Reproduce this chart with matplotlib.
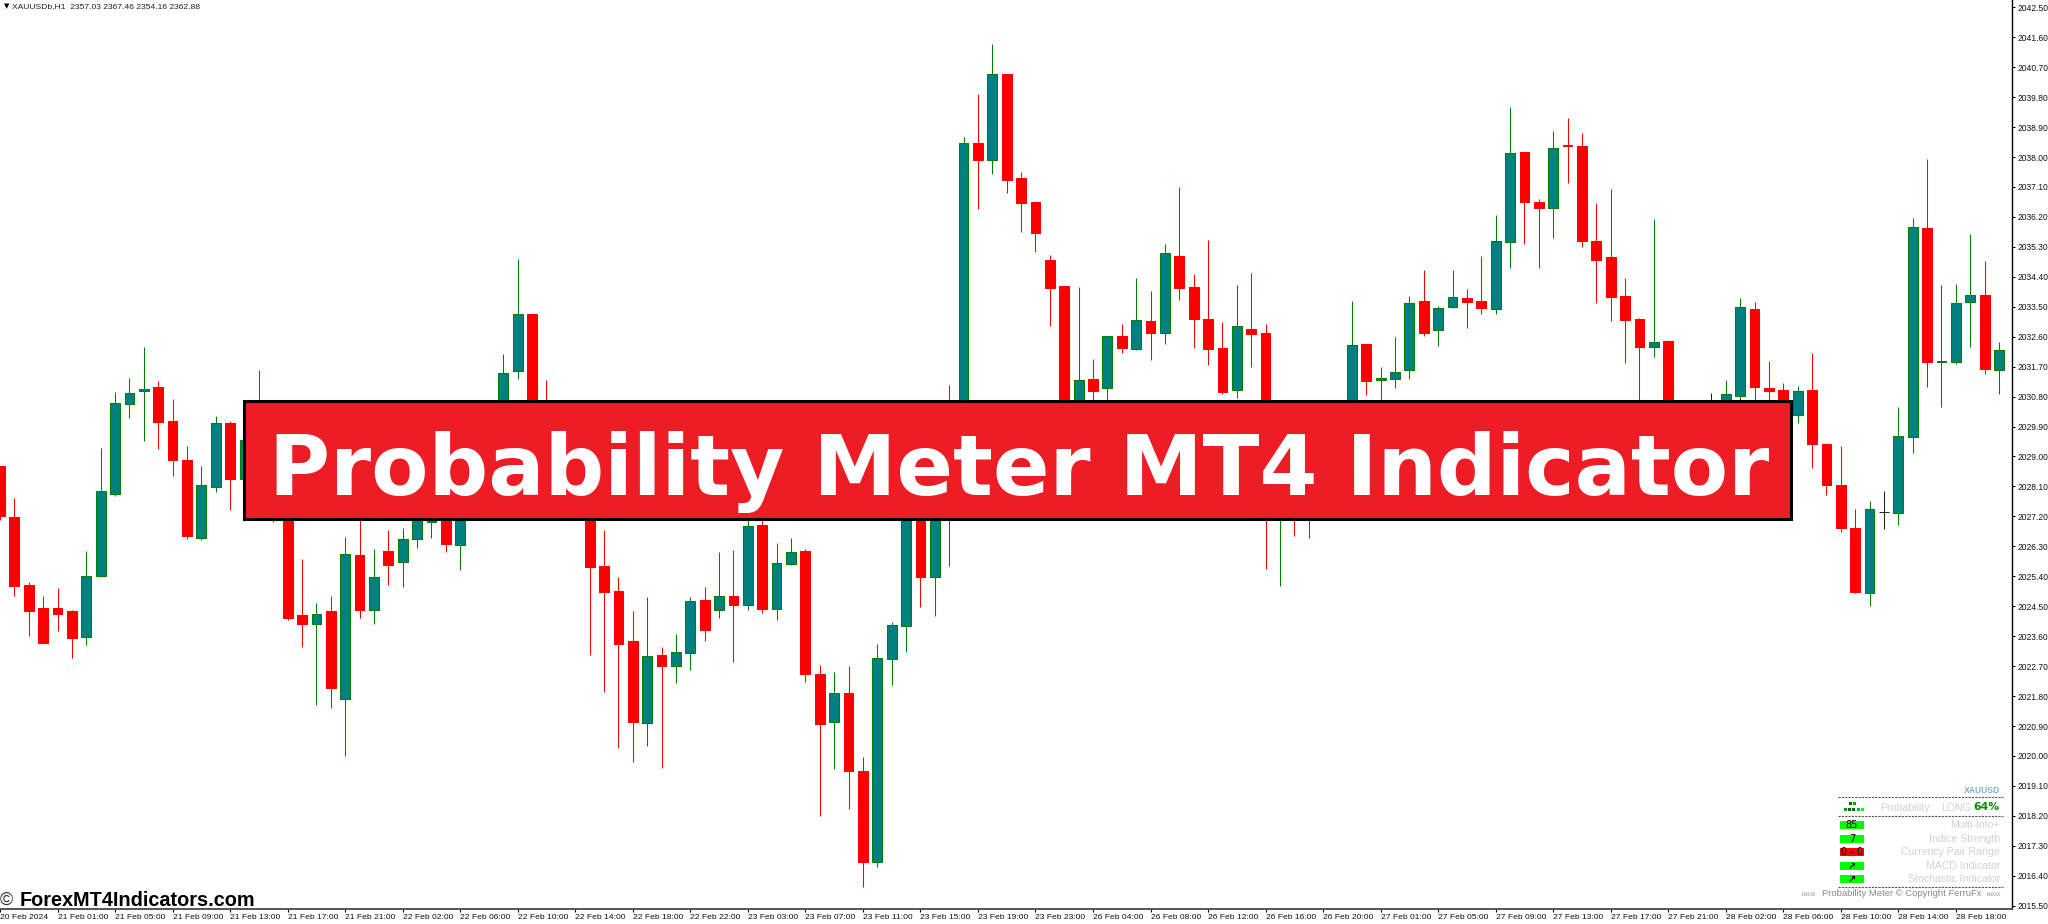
#!/usr/bin/env python3
"""XAUUSD H1 candles with the Probability Meter panel and title banner."""

import matplotlib
matplotlib.use("Agg")
import matplotlib.pyplot as plt
from matplotlib.patches import Rectangle

TICK_FONT = "Liberation Sans"
BANNER_FONT = "DejaVu Sans"

opens = [
    2028.71, 2027.18, 2025.13, 2024.44, 2024.44, 2024.35, 2023.58, 2025.41, 2027.88, 2030.57,
    2030.97, 2031.09, 2030.06, 2028.89, 2026.56, 2028.08, 2030.01, 2028.32, 2029.49, 2028.59,
    2027.69, 2024.25, 2023.98, 2024.35, 2021.72, 2026.04, 2024.39, 2026.17, 2025.83, 2026.53,
    2027.04, 2027.99, 2026.35, 2028.29, 2029.49, 2030.34, 2031.57, 2033.28, 2029.79, 2028.59,
    2027.69, 2027.39, 2025.71, 2024.95, 2023.46, 2020.99, 2023.03, 2022.71, 2023.10, 2024.68,
    2024.39, 2024.81, 2024.55, 2026.95, 2024.42, 2025.78, 2026.17, 2022.46, 2021.01, 2021.89,
    2019.54, 2016.82, 2022.91, 2023.90, 2029.19, 2025.38, 2029.19, 2030.09, 2038.41, 2037.91,
    2040.50, 2037.36, 2036.64, 2034.90, 2034.12, 2029.49, 2031.34, 2031.05, 2032.63, 2032.24,
    2033.06, 2032.72, 2035.03, 2034.09, 2033.12, 2032.25, 2031.00, 2032.82, 2032.71, 2027.69,
    2030.09, 2028.59, 2029.79, 2030.40, 2029.94, 2032.37, 2031.31, 2031.32, 2031.60, 2033.68,
    2032.80, 2033.48, 2033.76, 2033.68, 2033.42, 2035.45, 2038.14, 2036.65, 2036.48, 2038.36,
    2038.33, 2035.47, 2035.00, 2033.82, 2033.12, 2032.29, 2032.46, 2029.19, 2028.59, 2029.79,
    2029.79, 2030.83, 2033.44, 2031.06, 2030.99, 2030.25, 2031.01, 2029.38, 2028.14, 2026.84,
    2024.90, 2027.32, 2027.29, 2029.59, 2035.87, 2031.83, 2031.85, 2033.64, 2033.84, 2031.60,
]
highs = [
    2028.71, 2027.75, 2025.23, 2024.81, 2025.04, 2024.38, 2026.17, 2029.25, 2030.93, 2031.36,
    2032.28, 2031.28, 2030.72, 2029.31, 2028.71, 2030.21, 2030.06, 2029.94, 2031.60, 2029.19,
    2028.59, 2025.92, 2024.60, 2024.80, 2026.57, 2027.39, 2026.22, 2026.79, 2026.85, 2027.54,
    2027.54, 2028.29, 2028.59, 2029.94, 2030.55, 2032.07, 2034.93, 2033.28, 2031.30, 2029.49,
    2028.29, 2027.99, 2026.79, 2025.38, 2024.35, 2024.77, 2023.28, 2023.68, 2024.77, 2025.08,
    2026.12, 2026.19, 2027.24, 2027.24, 2026.39, 2026.55, 2026.22, 2022.73, 2022.51, 2022.71,
    2019.96, 2023.35, 2024.03, 2029.49, 2029.79, 2030.09, 2031.15, 2038.61, 2039.89, 2041.40,
    2040.50, 2037.55, 2036.64, 2035.05, 2034.12, 2034.09, 2031.93, 2032.63, 2032.98, 2034.36,
    2033.96, 2035.39, 2037.10, 2034.47, 2035.51, 2033.04, 2034.15, 2034.50, 2032.98, 2030.55,
    2030.40, 2030.25, 2030.55, 2030.55, 2033.66, 2032.37, 2031.68, 2032.58, 2033.82, 2034.60,
    2033.52, 2034.60, 2034.04, 2035.03, 2036.26, 2039.50, 2038.16, 2036.74, 2038.78, 2039.18,
    2038.72, 2036.61, 2037.04, 2034.36, 2033.17, 2036.13, 2032.50, 2029.49, 2030.09, 2030.91,
    2031.31, 2033.77, 2033.65, 2031.88, 2031.20, 2031.11, 2032.12, 2029.41, 2029.31, 2027.41,
    2027.65, 2027.96, 2030.49, 2036.18, 2037.93, 2034.15, 2034.17, 2035.69, 2034.87, 2032.44,
]
lows = [
    2027.09, 2024.81, 2023.60, 2023.39, 2023.76, 2022.95, 2023.33, 2025.38, 2027.82, 2030.15,
    2029.47, 2029.23, 2028.42, 2026.51, 2026.49, 2027.93, 2027.39, 2027.99, 2027.69, 2027.04,
    2024.10, 2023.28, 2021.53, 2021.45, 2020.00, 2024.15, 2023.98, 2025.13, 2025.08, 2026.26,
    2026.56, 2026.14, 2025.58, 2027.99, 2029.19, 2030.09, 2031.34, 2029.49, 2028.29, 2027.39,
    2027.24, 2023.03, 2021.93, 2020.24, 2019.82, 2020.30, 2019.65, 2022.20, 2022.58, 2023.46,
    2024.15, 2022.82, 2024.39, 2024.30, 2024.10, 2025.74, 2022.23, 2018.20, 2019.60, 2018.40,
    2016.07, 2016.67, 2022.12, 2023.12, 2024.49, 2024.20, 2025.72, 2029.79, 2036.45, 2037.48,
    2036.91, 2035.76, 2035.15, 2032.93, 2029.19, 2029.19, 2030.40, 2030.09, 2032.10, 2032.20,
    2031.91, 2032.39, 2033.71, 2032.26, 2031.75, 2030.88, 2030.77, 2031.69, 2025.61, 2025.11,
    2026.61, 2026.56, 2029.49, 2029.64, 2029.64, 2030.85, 2030.09, 2031.07, 2031.32, 2032.61,
    2032.32, 2033.45, 2032.85, 2033.29, 2033.29, 2034.67, 2035.39, 2034.67, 2035.56, 2037.21,
    2035.29, 2033.62, 2033.08, 2031.80, 2029.79, 2032.00, 2028.89, 2028.29, 2028.29, 2029.49,
    2029.49, 2030.40, 2030.09, 2030.40, 2030.09, 2030.00, 2028.64, 2027.83, 2026.72, 2024.90,
    2024.52, 2026.83, 2026.94, 2029.11, 2031.10, 2030.49, 2031.77, 2032.29, 2031.48, 2030.89,
]
closes = [
    2027.21, 2025.11, 2024.36, 2023.40, 2024.27, 2023.55, 2025.41, 2027.95, 2030.60, 2030.90,
    2031.03, 2030.03, 2028.89, 2026.61, 2028.13, 2030.00, 2028.32, 2029.49, 2028.59, 2027.69,
    2024.14, 2023.98, 2024.27, 2022.03, 2026.06, 2024.39, 2025.38, 2025.74, 2026.51, 2027.24,
    2027.10, 2026.37, 2028.29, 2029.49, 2030.40, 2031.50, 2033.28, 2029.79, 2028.59, 2027.69,
    2027.39, 2025.68, 2024.93, 2023.36, 2021.01, 2023.00, 2022.71, 2023.11, 2024.65, 2023.80,
    2024.81, 2024.55, 2026.92, 2024.42, 2025.79, 2026.14, 2022.45, 2020.96, 2021.89, 2019.54,
    2016.82, 2022.94, 2023.94, 2028.89, 2025.38, 2029.19, 2030.09, 2038.41, 2037.91, 2040.50,
    2037.32, 2036.62, 2035.73, 2034.07, 2029.49, 2031.31, 2030.97, 2032.63, 2032.26, 2033.09,
    2032.72, 2035.11, 2034.07, 2033.13, 2032.23, 2030.94, 2032.93, 2032.69, 2027.69, 2030.09,
    2028.59, 2029.79, 2030.40, 2029.94, 2032.36, 2031.27, 2031.36, 2031.55, 2033.62, 2032.70,
    2033.46, 2033.78, 2033.64, 2033.45, 2035.47, 2038.11, 2036.65, 2036.48, 2038.28, 2038.32,
    2035.48, 2034.90, 2033.80, 2033.10, 2032.29, 2032.43, 2029.19, 2028.59, 2029.79, 2029.79,
    2030.87, 2033.50, 2031.08, 2030.97, 2030.25, 2030.98, 2029.37, 2028.13, 2026.85, 2024.93,
    2027.41, 2027.32, 2029.62, 2035.90, 2031.83, 2031.87, 2033.62, 2033.84, 2031.62, 2032.21,
]

price_ticks = [
    2015.50, 2016.40, 2017.30, 2018.20, 2019.10, 2020.00, 2020.90, 2021.80, 2022.70, 2023.60,
    2024.50, 2025.40, 2026.30, 2027.20, 2028.10, 2029.00, 2029.90, 2030.80, 2031.70, 2032.60,
    2033.50, 2034.40, 2035.30, 2036.20, 2037.10, 2038.00, 2038.90, 2039.80, 2040.70, 2041.60,
    2042.50,
]
time_labels = [
    "20 Feb 2024", "21 Feb 01:00", "21 Feb 05:00", "21 Feb 09:00", "21 Feb 13:00", "21 Feb 17:00",
    "21 Feb 21:00", "22 Feb 02:00", "22 Feb 06:00", "22 Feb 10:00", "22 Feb 14:00", "22 Feb 18:00",
    "22 Feb 22:00", "23 Feb 03:00", "23 Feb 07:00", "23 Feb 11:00", "23 Feb 15:00", "23 Feb 19:00",
    "23 Feb 23:00", "26 Feb 04:00", "26 Feb 08:00", "26 Feb 12:00", "26 Feb 16:00", "26 Feb 20:00",
    "27 Feb 01:00", "27 Feb 05:00", "27 Feb 09:00", "27 Feb 13:00", "27 Feb 17:00", "27 Feb 21:00",
    "28 Feb 02:00", "28 Feb 06:00", "28 Feb 10:00", "28 Feb 14:00", "28 Feb 18:00",
]
TIME_STEP = 4

panel_labels = ["Multi-Info+", "Indice Strength", "Currency Pair Range", "MACD Indicator", "Stochastic Indicator"]
panel_values = ["85", "7", "0 - 0", "\u2197", "\u2197"]
panel_colors = ["#00FF00", "#00FF00", "#FF0000", "#00FF00", "#00FF00"]

fig = plt.figure(figsize=(20.48, 9.24), dpi=100, facecolor="white")
ax = fig.add_axes([0, 15 / 924, 2012.4 / 2048, 909 / 924])

for i, (o, h, l, c) in enumerate(zip(opens, highs, lows, closes)):
    if c > o:
        wick, fill = "#008000", "#008080"
    elif c < o:
        wick, fill = "#FF0000", "#FF0000"
    else:
        wick, fill = "#222222", "#222222"
    ax.vlines(i, l, h, color=wick, linewidth=0.75, zorder=2)
    ax.bar(i, abs(c - o), bottom=min(o, c), width=0.68, color=fill, edgecolor=wick, linewidth=0.75, zorder=3)

ax.set_xlim(0.059, 139.93)
ax.set_ylim(2015.40, 2042.72)
for side in ["top", "left"]:
    ax.spines[side].set_visible(False)
ax.spines["right"].set_linewidth(1.0)
ax.spines["bottom"].set_linewidth(1.4)
ax.spines["bottom"].set_color("#555555")
ax.yaxis.tick_right()
ax.set_yticks(price_ticks)
ax.set_yticklabels([f"{p:.2f}" for p in price_ticks], fontname=TICK_FONT, fontsize=6.15, color="#111111")
ax.set_xticks(range(0, len(time_labels) * TIME_STEP, TIME_STEP))
ax.set_xticklabels(time_labels, fontname=TICK_FONT, fontsize=6.1, color="#111111", ha="left")
ax.tick_params(axis="y", length=2.5, width=0.8, pad=1.5)
ax.tick_params(axis="x", length=2.5, width=0.8, pad=1.2)

# overlay in pixel coordinates for banner, panel and captions
ov = fig.add_axes([0, 0, 1, 1], facecolor="none")
ov.set_xlim(0, 2048)
ov.set_ylim(924, 0)
ov.axis("off")

ov.add_patch(Rectangle((244, 401), 1547, 118, facecolor="#ED1C25", edgecolor="black", linewidth=2.2, zorder=5))
ov.text(1019, 495, "Probability Meter MT4 Indicator", fontname=BANNER_FONT, fontweight="bold", fontsize=60,
        color="white", ha="center", va="baseline", zorder=6)

ov.text(4, 6.5, "\u25BC", fontname="DejaVu Sans", fontsize=5, color="black", va="center")
ov.text(12.5, 6.5, "XAUUSDb,H1  2357.03 2367.46 2354.16 2362.88", fontname=TICK_FONT, fontsize=6.1,
        color="#222222", va="center")

ov.text(0, 900, "\u00A9", fontname=TICK_FONT, fontsize=13, color="#333333", va="center")
ov.text(20, 900, "ForexMT4Indicators.com", fontname=TICK_FONT, fontweight="bold", fontsize=14.3,
        color="black", va="center")

# indicator panel
ov.text(2000, 790.5, "XAUUSD", fontname=TICK_FONT, fontweight="bold", fontsize=6.2, color="#7FB2C4", ha="right", va="center")
for y in [797.3, 816, 887.3]:
    ov.plot([1838, 2003], [y, y], color="#555555", linewidth=0.8, linestyle=(0, (2, 1)))
ov.text(1880, 807.7, "Probability:", fontname=TICK_FONT, fontsize=7.6, color="#D2D2D2", va="center")
ov.text(1941, 807.7, "LONG", fontname=TICK_FONT, fontsize=7.6, color="#D2D2D2", va="center")
ov.text(2000, 807.5, "64%", fontname="DejaVu Sans", fontweight="bold", fontsize=7.8, color="#0A8A0A", ha="right", va="center")
for x, y, col in [(1849, 803, "#006400"), (1853, 803, "#00A000"), (1843.5, 809.5, "#00A000"), (1848, 809.5, "#006400"),
                  (1852, 809.5, "#006400"), (1856.5, 809.5, "#00C000"), (1860.5, 809.5, "#00FF00")]:
    ov.add_patch(Rectangle((x, y - 1.5), 3, 3.2, facecolor=col, edgecolor="none"))
for k, (name, val, col) in enumerate(zip(panel_labels, panel_values, panel_colors)):
    y = 825.3 + k * 13.5
    ov.add_patch(Rectangle((1840, y - 4), 24.3, 8, facecolor=col, edgecolor="none"))
    ov.text(1852, y, val, fontname="DejaVu Sans", fontsize=7.0, color="black", ha="center", va="center",
            fontweight="bold" if k > 2 else "normal")
    ov.text(2000, y, name, fontname=TICK_FONT, fontsize=7.6, color="#D2D2D2", ha="right", va="center")
ov.text(1801, 894, "\u00BB\u00BB\u00BB", fontname=TICK_FONT, fontsize=6.7, color="#999999", va="center")
ov.text(1822, 893.5, "Probability Meter \u00A9 Copyright FerruFx", fontname=TICK_FONT, fontsize=6.8, color="#8A8A8A", va="center")
ov.text(2001, 894, "\u00AB\u00AB\u00AB", fontname=TICK_FONT, fontsize=6.7, color="#999999", ha="right", va="center")

fig.savefig("out.png", dpi=100)
